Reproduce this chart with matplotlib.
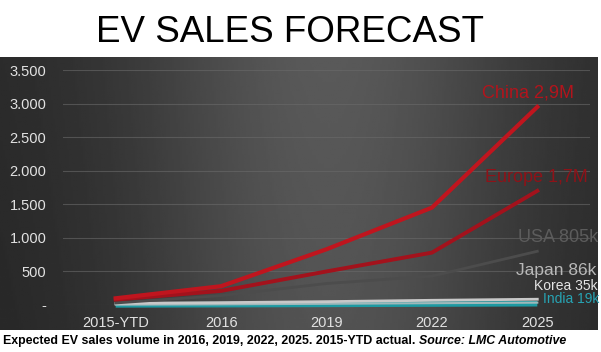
import numpy as np
import matplotlib
matplotlib.use("Agg")
import matplotlib.pyplot as plt

plt.rcParams['font.family'] = ['Liberation Sans', 'DejaVu Sans']

years = ['2015-YTD', '2016', '2019', '2022', '2025']
china = [100, 280, 830, 1450, 2950]
europe = [80, 210, 500, 780, 1700]
usa = [30, 140, 320, 430, 800]
japan = [25, 35, 50, 70, 86]
korea = [5, 10, 18, 27, 35]
india = [2, 5, 9, 14, 19]
yticks = [0, 500, 1000, 1500, 2000, 2500, 3000, 3500]
ytick_labels = ['-', '500', '1.000', '1.500', '2.000', '2.500', '3.000', '3.500']

W, H = 601, 352
fig = plt.figure(figsize=(W / 100, H / 100), dpi=100)
fig.patch.set_facecolor('white')

# dark gradient panel
bg = fig.add_axes([0, (H - 330) / H, 598 / W, (330 - 57) / H])
bg.set_axis_off()
xs = np.linspace(0, 1, 300)
prof = 0.16 + 0.19 * np.exp(-((xs - 0.55) / 0.33) ** 2)
ys = np.linspace(0, 1, 60)[:, None]
grad = prof[None, :] * (0.93 + 0.07 * ys)
bg.imshow(grad, cmap='gray', vmin=0, vmax=1, aspect='auto', extent=[0, 1, 0, 1], origin='lower')

ax = fig.add_axes([63 / W, (H - 305) / H, (590 - 63) / W, (305 - 70) / H])
ax.patch.set_alpha(0)
x = np.arange(len(years))
ax.set_xlim(-0.5, 4.5)
ax.set_ylim(0, 3500)
for s in ax.spines.values():
    s.set_visible(False)
ax.set_yticks(yticks)
ax.set_yticklabels(ytick_labels)
ax.set_xticks(x)
ax.set_xticklabels(years)
ax.tick_params(length=0, colors='#e2e2e2', labelsize=10.5, pad=8)
ax.tick_params(axis='y', pad=12)
ax.grid(axis='y', color='#6a6a6a', lw=0.8, alpha=0.6)
ax.set_axisbelow(True)

ax.plot(x, india, color='#1d9aa2', lw=4, clip_on=False, solid_capstyle='butt')
ax.plot(x, korea, color='#9fb8ba', lw=1.5, clip_on=False)
ax.plot(x, japan, color='#c8c8c8', lw=2, clip_on=False)
ax.plot(x, usa, color='#4c4c4c', lw=2, clip_on=False)
ax.plot(x, europe, color='#a3121c', lw=2.8, clip_on=False)
ax.plot(x, china, color='#c0151e', lw=3, clip_on=False)

def lab(txt, xr, y, col, size):
    fig.text(xr / W, (H - y) / H, txt, color=col, fontsize=size, ha='right', va='center')

lab('China 2,9M', 574, 93, '#b3141c', 13)
lab('Europe 1,7M', 588, 178, '#8e1218', 13)
lab('USA 805k', 598, 238, '#5c5c5c', 13)
lab('Japan 86k', 596, 271, '#b8b8b8', 12.5)
lab('Korea 35k', 598, 286, '#e4e4e4', 10)
lab('India 19k', 599, 299, '#27a3b3', 10)

fig.text(290 / W, (H - 33) / H, 'EV SALES FORECAST', fontsize=26.5, ha='center', va='center', color='black')

t1 = fig.text(3 / W, (H - 341) / H, 'Expected EV sales volume in 2016, 2019, 2022, 2025. 2015-YTD actual. ',
              fontsize=8.9, fontweight='bold', ha='left', va='center')
r = fig.canvas.get_renderer()
bb = t1.get_window_extent(r)
fig.text(bb.x1 / W, (H - 341) / H, 'Source: LMC Automotive', fontsize=8.9, fontweight='bold',
         fontstyle='italic', ha='left', va='center')

fig.savefig('out.png', dpi=100)
